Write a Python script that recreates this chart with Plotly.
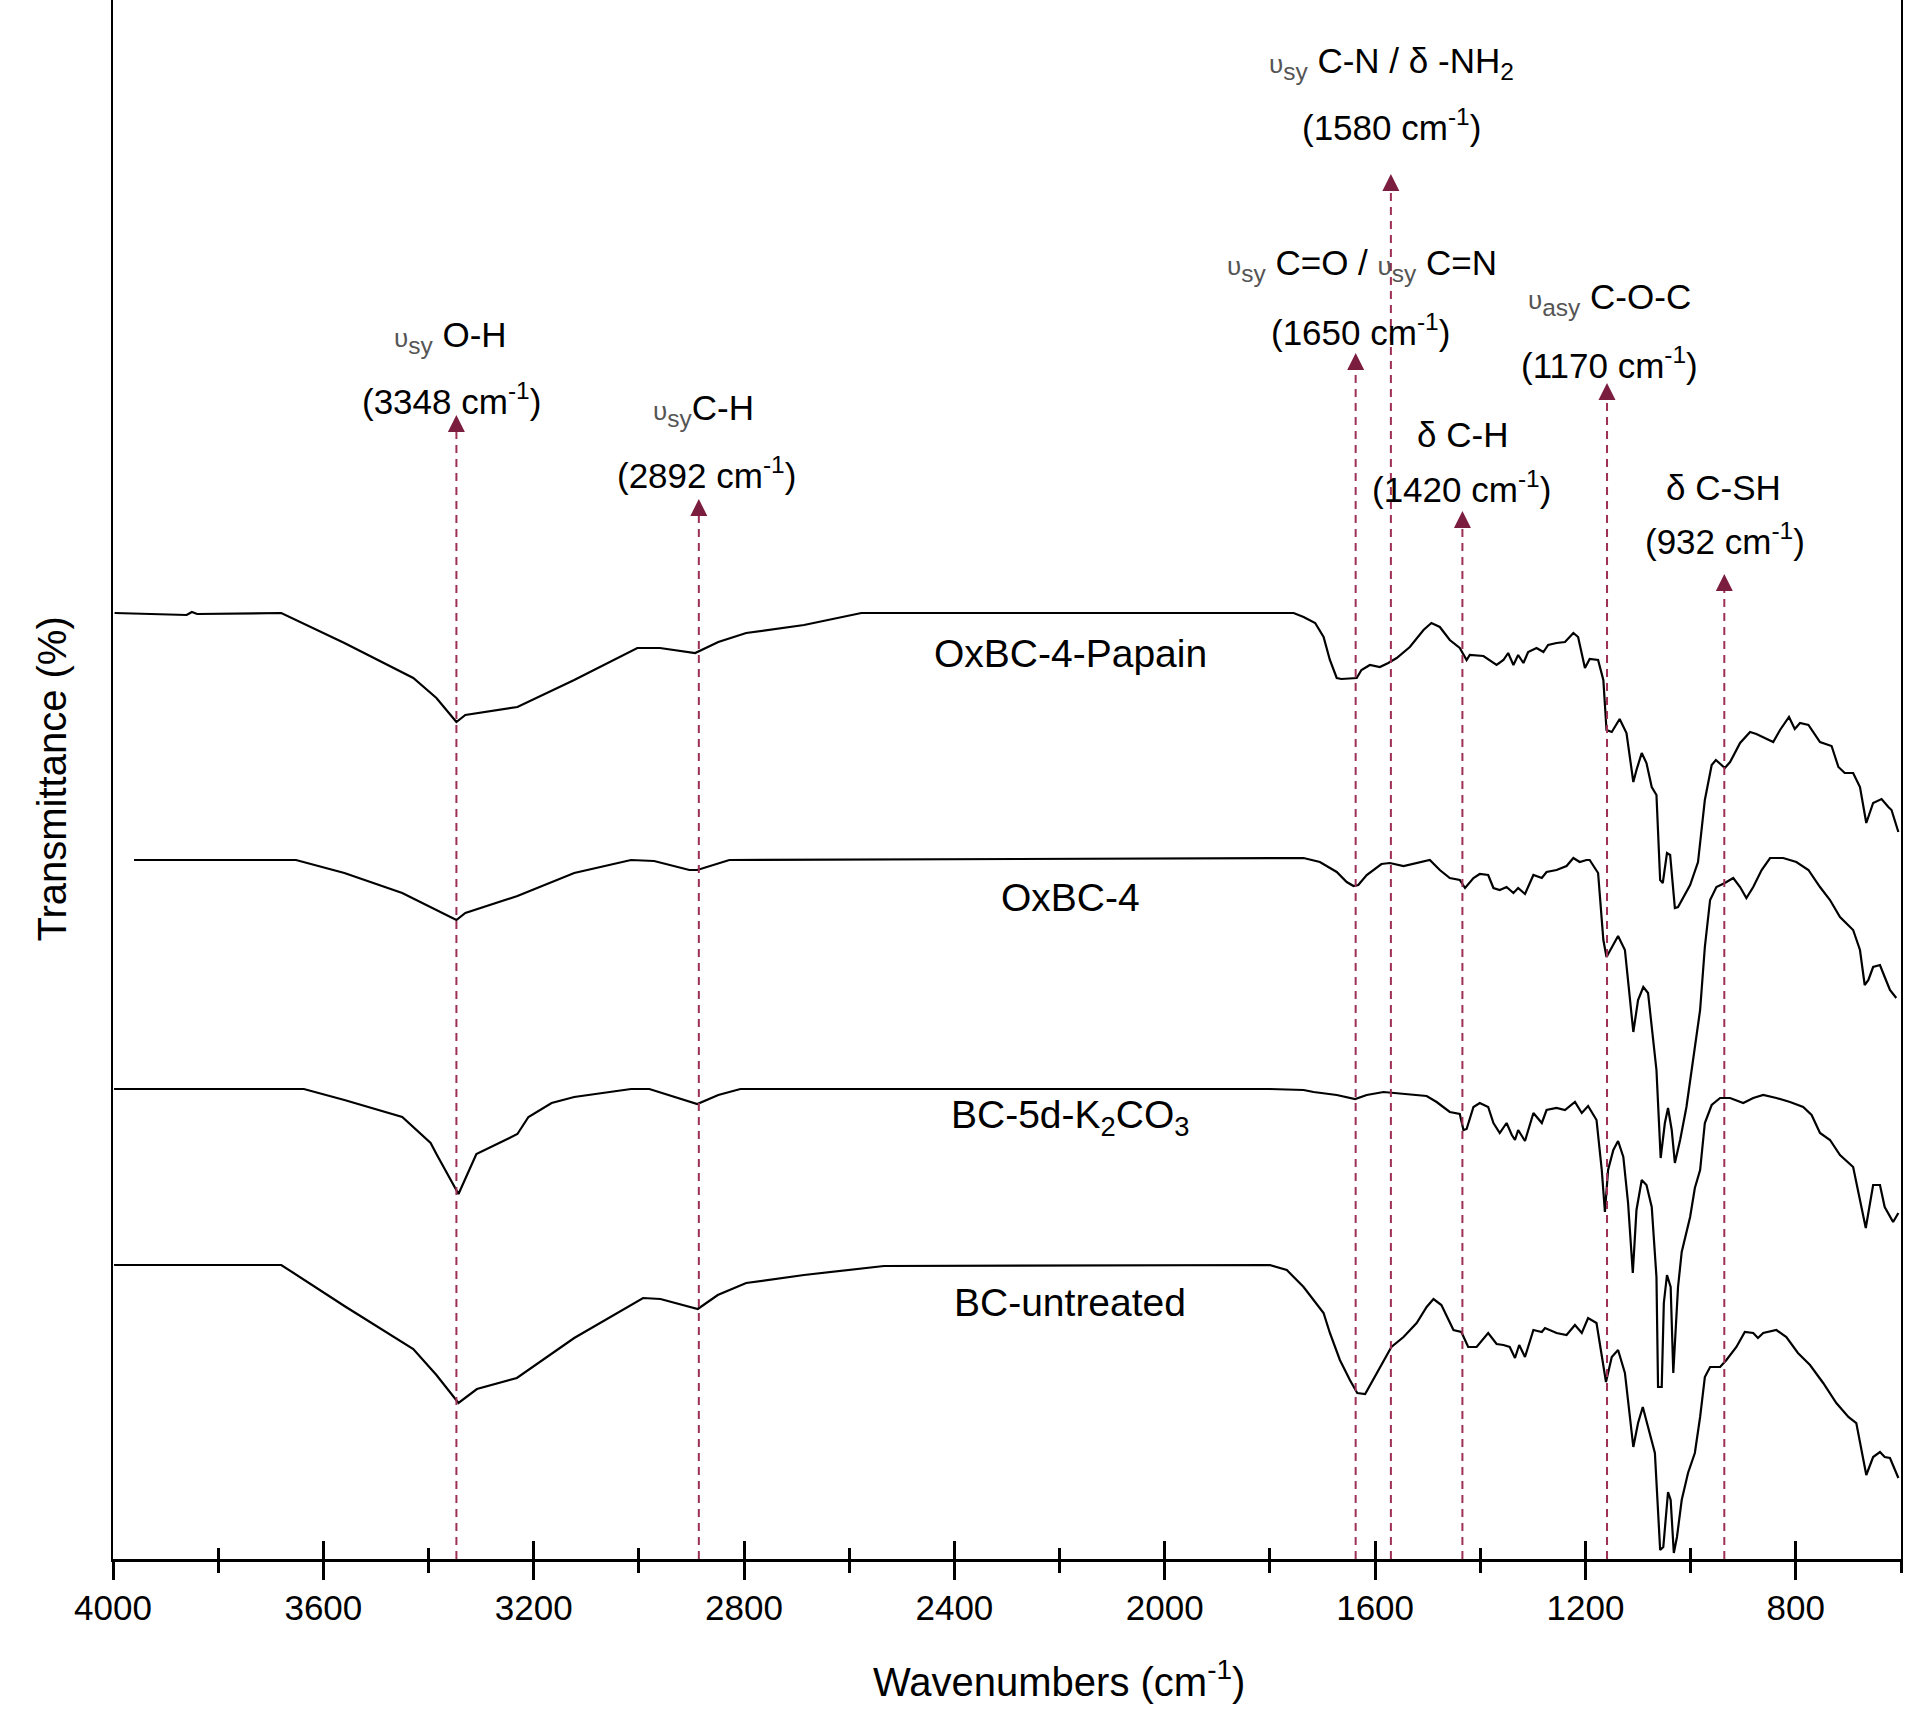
import plotly.graph_objects as go

# ---------------- data (wavenumber cm-1, transmittance in arbitrary offset units) ----------------
papain_wn = [3997, 3860, 3850, 3840, 3680, 3560, 3429, 3385, 3347, 3330,
             3231, 3123, 3003, 2960, 2893, 2849, 2796, 2686, 2577, 1800,
             1755, 1736, 1714, 1698, 1686, 1673, 1664, 1635, 1626, 1610,
             1591, 1575, 1559, 1534, 1508, 1493, 1477, 1458, 1439, 1426,
             1420, 1394, 1369, 1356, 1347, 1337, 1328, 1318, 1309, 1293,
             1280, 1271, 1255, 1239, 1223, 1214, 1207, 1201, 1192, 1176,
             1166, 1160, 1150, 1135, 1122, 1109, 1103, 1093, 1084, 1074,
             1065, 1058, 1053, 1045, 1039, 1030, 1024, 1014, 1001, 986,
             973, 960, 952, 935, 925, 906, 887, 875, 862, 843,
             830, 813, 802, 792, 776, 754, 732, 719, 707, 691,
             678, 666, 653, 637, 624, 618, 605]
papain_t = [94.6, 94.4, 94.7, 94.5, 94.6, 91.6, 88.1, 86.1, 83.7, 84.4,
            85.2, 87.9, 91.1, 91.1, 90.6, 91.7, 92.6, 93.4, 94.6, 94.6,
            94.6, 94.2, 93.6, 92.2, 89.9, 88.1, 88.0, 88.1, 88.9, 89.4,
            89.2, 89.6, 90.1, 91.2, 92.9, 93.6, 93.2, 91.9, 91.1, 89.9,
            90.4, 90.3, 89.4, 89.9, 90.6, 89.4, 90.4, 89.6, 90.7, 91.1,
            90.7, 91.4, 91.6, 91.7, 92.6, 92.2, 90.6, 89.1, 90.0, 89.9,
            87.9, 82.9, 82.7, 84.0, 82.6, 77.7, 78.9, 80.6, 79.6, 77.2,
            76.4, 67.9, 67.6, 70.6, 70.4, 65.1, 65.2, 66.2, 67.4, 69.7,
            75.9, 79.4, 79.9, 79.1, 79.7, 81.6, 82.7, 82.5, 82.2, 81.7,
            82.9, 84.2, 83.0, 83.6, 83.4, 81.7, 81.3, 79.2, 78.6, 78.6,
            77.2, 73.6, 75.6, 76.0, 75.2, 74.9, 72.7]

oxbc4_wn = [3960, 3652, 3560, 3450, 3347, 3330, 3231, 3123, 3015, 2971,
            2904, 2889, 2828, 1800, 1736, 1705, 1673, 1654, 1641, 1632,
            1616, 1588, 1572, 1546, 1521, 1496, 1477, 1458, 1439, 1429,
            1413, 1401, 1385, 1375, 1363, 1350, 1337, 1328, 1315, 1299,
            1283, 1274, 1255, 1236, 1223, 1211, 1198, 1192, 1176, 1166,
            1160, 1150, 1138, 1125, 1109, 1100, 1090, 1081, 1065, 1057,
            1049, 1043, 1036, 1030, 1020, 1008, 998, 982, 973, 963,
            951, 935, 919, 906, 894, 881, 865, 849, 824, 799,
            776, 754, 735, 716, 691, 678, 669, 662, 653, 640,
            631, 621, 609]
oxbc4_t = [69.9, 69.9, 68.6, 66.6, 63.9, 64.6, 66.3, 68.6, 69.9, 69.8,
           68.9, 68.9, 69.9, 70.1, 70.1, 69.7, 68.7, 67.7, 67.3, 67.4,
           68.4, 69.5, 69.6, 69.3, 69.6, 69.9, 68.9, 68.1, 67.9, 67.1,
           68.1, 68.5, 68.4, 67.1, 66.9, 67.2, 66.6, 67.1, 66.5, 68.4,
           68.1, 68.7, 68.9, 69.3, 70.1, 69.7, 69.9, 69.9, 68.6, 61.9,
           60.2, 61.2, 62.3, 60.9, 52.7, 55.9, 57.2, 56.6, 48.9, 40.1,
           43.6, 45.1, 42.9, 39.6, 41.9, 45.2, 48.9, 54.9, 61.2, 65.9,
           67.2, 67.6, 68.1, 67.2, 66.1, 67.2, 68.9, 70.1, 70.1, 69.7,
           68.9, 67.2, 65.9, 64.2, 62.9, 60.9, 57.4, 57.9, 59.2, 59.4,
           58.2, 56.9, 56.1]

k2co3_wn = [3998, 3637, 3560, 3450, 3396, 3385, 3343, 3309, 3254, 3231,
            3210, 3166, 3123, 3015, 2980, 2889, 2849, 2807, 1800, 1736,
            1717, 1673, 1638, 1616, 1584, 1534, 1502, 1483, 1458, 1439,
            1432, 1426, 1413, 1401, 1385, 1375, 1363, 1350, 1340, 1334,
            1328, 1315, 1299, 1283, 1274, 1255, 1239, 1220, 1207, 1195,
            1179, 1169, 1163, 1157, 1147, 1138, 1128, 1119, 1110, 1103,
            1093, 1084, 1074, 1065, 1062, 1055, 1051, 1045, 1038, 1033,
            1028, 1024, 1017, 1008, 1001, 992, 982, 973, 960, 944,
            925, 900, 881, 862, 837, 811, 786, 770, 754, 735,
            716, 691, 678, 667, 653, 640, 631, 615, 605]
k2co3_t = [47.0, 47.0, 45.9, 44.2, 41.6, 40.5, 36.5, 40.5, 41.9, 42.5,
           44.2, 45.6, 46.2, 47.0, 47.0, 45.5, 46.4, 47.0, 47.0, 46.9,
           46.7, 46.4, 46.0, 46.4, 46.7, 46.5, 46.3, 45.7, 44.7, 44.5,
           42.9, 43.0, 45.2, 45.6, 45.2, 43.6, 42.6, 43.6, 42.4, 41.9,
           42.9, 41.8, 44.6, 43.6, 44.9, 45.1, 44.9, 45.7, 44.6, 45.3,
           43.9, 38.9, 34.7, 38.9, 40.9, 41.8, 40.2, 35.6, 28.6, 34.9,
           37.9, 37.4, 35.2, 28.2, 17.2, 17.2, 25.6, 28.4, 27.2, 18.6,
           22.9, 27.2, 30.7, 32.6, 34.2, 37.1, 38.9, 43.6, 45.4, 46.1,
           46.1, 45.6, 46.1, 46.4, 46.1, 45.7, 45.2, 44.4, 42.6, 41.9,
           40.4, 39.2, 35.9, 33.1, 37.4, 37.4, 35.2, 33.7, 34.6]

untreated_wn = [3998, 3680, 3560, 3429, 3385, 3343, 3308, 3232, 3123, 2992,
                2959, 2888, 2850, 2796, 2686, 2534, 1800, 1768, 1736, 1717,
                1698, 1686, 1667, 1648, 1634, 1619, 1597, 1569, 1546, 1521,
                1502, 1489, 1474, 1451, 1436, 1423, 1407, 1385, 1369, 1356,
                1344, 1334, 1326, 1315, 1299, 1283, 1277, 1255, 1236, 1220,
                1207, 1195, 1179, 1169, 1161, 1150, 1138, 1125, 1109, 1100,
                1091, 1081, 1068, 1058, 1052, 1043, 1038, 1032, 1026, 1017,
                1005, 992, 982, 973, 963, 944, 932, 913, 897, 881,
                872, 862, 837, 818, 796, 773, 748, 723, 700, 685,
                675, 666, 653, 640, 631, 621, 605]
untreated_t = [29.4, 29.4, 25.3, 21.0, 18.4, 15.6, 17.0, 18.1, 22.1, 26.1,
               26.0, 25.0, 26.4, 27.6, 28.4, 29.3, 29.4, 28.9, 27.2, 25.9,
               24.6, 22.6, 19.9, 17.9, 16.6, 16.5, 18.6, 21.2, 22.2, 23.6,
               25.2, 26.0, 25.4, 22.9, 22.7, 21.2, 21.2, 22.6, 21.5, 21.4,
               21.2, 20.1, 21.4, 20.2, 22.9, 22.7, 23.1, 22.6, 22.4, 23.4,
               22.6, 24.1, 23.6, 20.2, 17.7, 20.2, 20.9, 18.6, 11.2, 13.6,
               15.2, 13.2, 10.6, 0.9, 1.2, 6.7, 5.9, 0.6, 2.2, 5.9,
               8.6, 10.6, 14.2, 18.2, 19.2, 19.2, 19.9, 21.2, 22.7, 22.6,
               22.1, 22.6, 22.9, 22.2, 20.6, 19.4, 17.6, 15.6, 14.2, 13.6,
               10.9, 8.4, 10.2, 10.7, 10.2, 10.1, 8.1]

series_names = ["OxBC-4-Papain", "OxBC-4", "BC-5d-K<sub>2</sub>CO<sub>3</sub>", "BC-untreated"]
series_label_levels = [90.6, 66.2, 44.2, 25.7]

# peak marker lines (as drawn) and arrow-tip levels
peak_lines = [3347, 2886, 1637, 1570, 1434, 1159, 936]
peak_tips = [114.4, 106.0, 120.6, 138.5, 104.8, 117.6, 98.5]

# peak labels: (centre wavenumber, level, text)
U = '<span style="font-size:26px;color:#555555">υ</span>'
SUB = lambda s: '<span style="color:#555555"><sub>' + s + '</sub></span>'
peak_labels = [
    (3359, 122.2, U + SUB("sy") + " O-H"),
    (3356, 116.0, "(3348 cm<sup>-1</sup>)"),
    (2878, 114.9, U + SUB("sy") + "C-H"),
    (2872, 108.6, "(2892 cm<sup>-1</sup>)"),
    (1568, 149.6, U + SUB("sy") + " C-N / δ -NH<sub>2</sub>"),
    (1568, 143.4, "(1580 cm<sup>-1</sup>)"),
    (1625, 129.4, U + SUB("sy") + " C=O / " + U + SUB("sy") + " C=N"),
    (1628, 122.9, "(1650 cm<sup>-1</sup>)"),
    (1433, 112.5, "δ C-H"),
    (1436, 107.2, "(1420 cm<sup>-1</sup>)"),
    (1154, 126.0, U + SUB("asy") + " C-O-C"),
    (1154, 119.6, "(1170 cm<sup>-1</sup>)"),
    (937, 107.2, "δ C-SH"),
    (935, 102.0, "(932 cm<sup>-1</sup>)"),
]

# ---------------- figure ----------------
FONT = "Arial"
fig = go.Figure()

for wn, t in [(papain_wn, papain_t), (oxbc4_wn, oxbc4_t), (k2co3_wn, k2co3_t), (untreated_wn, untreated_t)]:
    fig.add_trace(go.Scatter(x=wn, y=t, mode="lines",
                             line=dict(color="black", width=2.2),
                             showlegend=False, hoverinfo="skip"))

for p, tip in zip(peak_lines, peak_tips):
    fig.add_trace(go.Scatter(x=[p, p], y=[0, tip - 1.2], mode="lines",
                             line=dict(color="#9e2f57", width=2, dash="8px,6px"),
                             showlegend=False, hoverinfo="skip"))

fig.add_trace(go.Scatter(x=peak_lines, y=peak_tips, mode="markers", xaxis="x2",
                         marker=dict(symbol="arrow-up", size=17, color="#7b1d3f"),
                         showlegend=False, hoverinfo="skip"))

annotations = []
for name, lvl in zip(series_names, series_label_levels):
    annotations.append(dict(x=2180, y=lvl, xref="x", yref="y", text=name, showarrow=False,
                            font=dict(family=FONT, size=39, color="black")))
for x, y, txt in peak_labels:
    annotations.append(dict(x=x, y=y, xref="x", yref="y", text=txt, showarrow=False,
                            font=dict(family=FONT, size=35, color="black")))

annotations.append(dict(x=0, y=0.5, xref="paper", yref="paper", xshift=-62,
                        xanchor="center", yanchor="middle",
                        text="Transmittance (%)", textangle=-90, showarrow=False,
                        font=dict(family=FONT, size=40, color="black")))
annotations.append(dict(x=0.529, y=0, xref="paper", yref="paper", yshift=-120,
                        xanchor="center", yanchor="middle",
                        text="Wavenumbers (cm<sup>-1</sup>)", showarrow=False,
                        font=dict(family=FONT, size=40, color="black")))

axis_common = dict(range=[4000, 600], dtick=400, tick0=0, showgrid=False, zeroline=False,
                   ticklen=18, tickwidth=3, tickcolor="black")

fig.update_layout(
    width=1908, height=1713,
    margin=dict(l=113, r=7, t=0, b=154),
    paper_bgcolor="white", plot_bgcolor="white",
    xaxis=dict(**axis_common, ticks="outside", showline=True, linewidth=3, linecolor="black",
               tickfont=dict(family=FONT, size=35, color="black"), ticklabelstandoff=-2,
               minor=dict(ticks="outside", ticklen=11, tickwidth=3, dtick=200, tick0=0,
                          tickcolor="black", showgrid=False)),
    xaxis2=dict(**axis_common, ticks="inside", overlaying="x", matches="x", anchor="y",
                side="bottom", showline=False, showticklabels=False,
                minor=dict(ticks="inside", ticklen=11, tickwidth=3, dtick=200, tick0=0,
                           tickcolor="black", showgrid=False)),
    yaxis=dict(range=[0, 155.9], showline=True, linewidth=2, linecolor="black", mirror=True,
               ticks="", showticklabels=False, showgrid=False, zeroline=False),
    annotations=annotations,
)

fig.write_html("out.html")
